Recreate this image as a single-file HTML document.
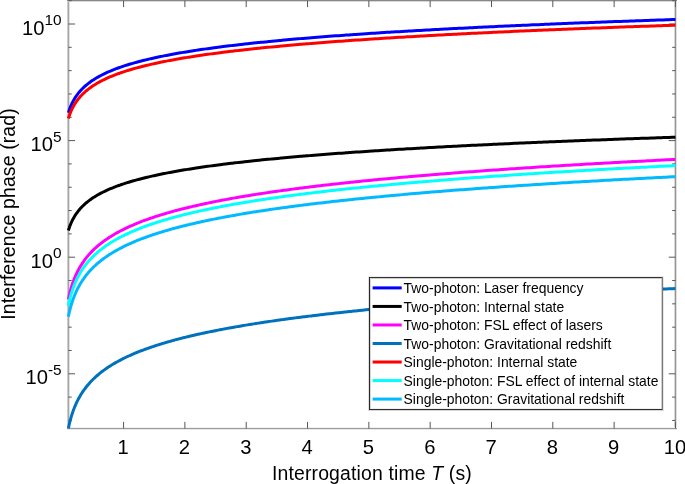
<!DOCTYPE html>
<html><head><meta charset="utf-8"><style>html,body{margin:0;padding:0;background:#fff;width:685px;height:484px;overflow:hidden}</style></head>
<body><svg width="685" height="484" viewBox="0 0 685 484" style="display:block"><rect width="685" height="484" fill="#fff"/><rect x="67" y="0" width="1" height="429" fill="#cdcdcd"/><rect x="68" y="0" width="1" height="429" fill="#a6a6a6"/><rect x="69" y="0" width="1" height="428" fill="#e1e1e1"/><rect x="674" y="0" width="1" height="429" fill="#d8d8d8"/><rect x="675" y="0" width="1" height="429" fill="#949494"/><rect x="676" y="0" width="1" height="429" fill="#e0e0e0"/><rect x="67" y="0" width="610" height="1" fill="#888888"/><rect x="67" y="1" width="610" height="1" fill="#d8d8d8"/><rect x="67" y="427" width="610" height="1" fill="#f0f0f0"/><rect x="67" y="428" width="610" height="1" fill="#9c9c9c"/><rect x="67" y="429" width="610" height="1" fill="#e8e8e8"/><path d="M123.57,428.56V421.86 M123.57,0.6V7.1 M184.89,428.56V421.86 M184.89,0.6V7.1 M246.21,428.56V421.86 M246.21,0.6V7.1 M307.53,428.56V421.86 M307.53,0.6V7.1 M368.85,428.56V421.86 M368.85,0.6V7.1 M430.17,428.56V421.86 M430.17,0.6V7.1 M491.49,428.56V421.86 M491.49,0.6V7.1 M552.81,428.56V421.86 M552.81,0.6V7.1 M614.13,428.56V421.86 M614.13,0.6V7.1 M675.45,428.56V421.86 M675.45,0.6V7.1 M68.38,420.44H71.67999999999999 M675.45,420.44H672.1500000000001 M68.38,397.12H71.67999999999999 M675.45,397.12H672.1500000000001 M68.38,373.80H75.08 M675.45,373.80H668.75 M68.38,350.48H71.67999999999999 M675.45,350.48H672.1500000000001 M68.38,327.16H71.67999999999999 M675.45,327.16H672.1500000000001 M68.38,303.84H71.67999999999999 M675.45,303.84H672.1500000000001 M68.38,280.52H71.67999999999999 M675.45,280.52H672.1500000000001 M68.38,257.20H75.08 M675.45,257.20H668.75 M68.38,233.88H71.67999999999999 M675.45,233.88H672.1500000000001 M68.38,210.56H71.67999999999999 M675.45,210.56H672.1500000000001 M68.38,187.24H71.67999999999999 M675.45,187.24H672.1500000000001 M68.38,163.92H71.67999999999999 M675.45,163.92H672.1500000000001 M68.38,140.60H75.08 M675.45,140.60H668.75 M68.38,117.28H71.67999999999999 M675.45,117.28H672.1500000000001 M68.38,93.96H71.67999999999999 M675.45,93.96H672.1500000000001 M68.38,70.64H71.67999999999999 M675.45,70.64H672.1500000000001 M68.38,47.32H71.67999999999999 M675.45,47.32H672.1500000000001 M68.38,24.00H75.08 M675.45,24.00H668.75 M68.38,0.68H71.67999999999999 M675.45,0.68H672.1500000000001" stroke="#575757" stroke-width="1" fill="none"/><g fill="none" stroke-width="3.00" stroke-linejoin="round"><path d="M68.38,112.78 L68.74,111.61 L69.13,110.45 L69.54,109.28 L69.97,108.12 L70.33,107.18 L70.71,106.25 L71.11,105.32 L71.53,104.38 L71.97,103.45 L72.42,102.52 L72.90,101.59 L73.41,100.65 L73.93,99.72 L74.45,98.84 L75.06,97.86 L75.66,96.92 L76.30,95.99 L76.96,95.06 L77.65,94.12 L78.38,93.19 L79.14,92.26 L79.93,91.33 L80.77,90.39 L81.64,89.46 L82.55,88.53 L83.51,87.59 L84.26,86.89 L85.03,86.20 L85.83,85.50 L86.66,84.80 L87.52,84.10 L88.41,83.40 L89.33,82.70 L90.28,82.00 L91.26,81.30 L92.28,80.60 L93.34,79.90 L94.43,79.20 L95.56,78.50 L96.73,77.80 L97.94,77.10 L99.20,76.40 L100.50,75.70 L101.39,75.23 L102.30,74.77 L103.23,74.30 L104.19,73.84 L105.16,73.37 L106.16,72.90 L107.18,72.44 L108.23,71.97 L109.30,71.50 L110.40,71.04 L111.52,70.57 L112.67,70.10 L113.84,69.64 L115.04,69.17 L116.27,68.71 L117.53,68.24 L118.82,67.77 L119.98,67.36 L121.49,66.84 L122.87,66.37 L124.28,65.91 L125.72,65.44 L127.20,64.97 L128.71,64.51 L130.26,64.04 L131.85,63.57 L133.47,63.11 L135.13,62.64 L136.82,62.18 L138.19,61.81 L139.45,61.48 L141.23,61.01 L143.08,60.54 L144.26,60.25 L145.92,59.84 L147.30,59.51 L148.87,59.14 L149.87,58.91 L150.88,58.68 L151.91,58.44 L152.95,58.21 L154.00,57.98 L155.06,57.74 L156.13,57.51 L157.22,57.28 L158.32,57.05 L159.43,56.81 L160.56,56.58 L161.70,56.35 L162.85,56.11 L164.01,55.88 L165.19,55.65 L166.38,55.41 L167.59,55.18 L168.81,54.95 L170.04,54.71 L171.29,54.48 L172.56,54.25 L173.83,54.01 L175.12,53.78 L176.43,53.55 L177.65,53.33 L179.09,53.08 L180.44,52.85 L181.81,52.61 L183.20,52.38 L184.60,52.15 L186.01,51.91 L187.45,51.68 L188.90,51.45 L190.36,51.22 L191.85,50.98 L193.35,50.75 L194.87,50.52 L195.86,50.36 L197.96,50.05 L199.53,49.82 L201.12,49.58 L202.72,49.35 L204.35,49.12 L206.00,48.88 L207.66,48.65 L209.34,48.42 L211.04,48.18 L212.77,47.95 L214.08,47.78 L216.28,47.48 L218.06,47.25 L219.87,47.02 L221.69,46.78 L223.18,46.60 L225.40,46.32 L227.29,46.08 L229.20,45.85 L231.14,45.62 L232.29,45.48 L235.07,45.15 L237.07,44.92 L238.36,44.77 L241.15,44.45 L243.22,44.22 L244.43,44.08 L247.43,43.75 L249.58,43.52 L251.75,43.29 L253.54,43.10 L256.16,42.82 L258.40,42.59 L259.61,42.46 L260.68,42.35 L262.64,42.15 L265.30,41.89 L267.65,41.65 L268.71,41.55 L270.03,41.42 L271.75,41.25 L274.78,40.96 L277.33,40.72 L279.82,40.49 L280.85,40.39 L282.34,40.25 L283.89,40.11 L284.89,40.02 L286.93,39.84 L289.96,39.57 L292.71,39.32 L295.38,39.09 L298.08,38.86 L300.81,38.62 L302.10,38.51 L303.57,38.39 L305.14,38.26 L306.37,38.16 L308.17,38.01 L309.19,37.92 L311.21,37.76 L314.24,37.51 L317.28,37.27 L320.31,37.03 L323.35,36.79 L326.38,36.56 L329.42,36.33 L332.46,36.10 L335.49,35.87 L338.53,35.65 L341.56,35.43 L344.60,35.21 L345.78,35.12 L347.63,34.99 L349.06,34.89 L350.67,34.78 L352.39,34.66 L353.70,34.57 L355.74,34.42 L359.14,34.19 L362.58,33.96 L365.84,33.74 L368.88,33.54 L371.92,33.34 L373.14,33.26 L374.95,33.14 L376.74,33.03 L377.99,32.95 L380.38,32.79 L384.06,32.56 L387.09,32.37 L390.13,32.18 L391.56,32.09 L393.16,31.99 L395.37,31.86 L399.23,31.63 L402.27,31.44 L405.30,31.26 L407.08,31.16 L408.34,31.09 L411.07,30.93 L414.41,30.73 L417.45,30.56 L419.19,30.46 L420.48,30.39 L423.33,30.23 L426.55,30.05 L429.59,29.88 L431.74,29.76 L435.66,29.55 L438.69,29.38 L440.35,29.29 L441.73,29.22 L444.72,29.06 L447.80,28.90 L449.15,28.83 L450.83,28.74 L453.63,28.59 L456.90,28.43 L458.16,28.36 L459.94,28.27 L462.75,28.13 L466.01,27.96 L467.39,27.90 L469.05,27.81 L472.08,27.66 L475.12,27.51 L476.82,27.43 L478.15,27.36 L481.19,27.22 L484.22,27.07 L486.48,26.96 L490.29,26.78 L491.39,26.73 L493.33,26.64 L496.36,26.50 L499.40,26.35 L501.39,26.26 L502.44,26.21 L505.47,26.08 L506.47,26.03 L508.51,25.94 L511.54,25.80 L514.58,25.66 L516.82,25.56 L520.65,25.39 L522.08,25.33 L523.68,25.26 L526.72,25.13 L529.75,24.99 L532.79,24.86 L535.82,24.73 L538.24,24.63 L541.89,24.48 L543.76,24.40 L544.93,24.35 L547.97,24.22 L549.33,24.16 L551.00,24.09 L554.04,23.97 L557.07,23.84 L560.11,23.72 L563.14,23.60 L566.18,23.48 L569.21,23.35 L572.25,23.23 L575.28,23.11 L578.19,23.00 L581.35,22.87 L584.17,22.76 L587.42,22.64 L590.21,22.53 L593.50,22.41 L596.32,22.30 L599.57,22.18 L602.51,22.07 L605.64,21.95 L608.67,21.84 L611.71,21.72 L614.74,21.61 L617.78,21.50 L620.81,21.39 L623.85,21.28 L626.88,21.17 L627.97,21.13 L629.92,21.06 L632.96,20.95 L634.52,20.90 L635.99,20.85 L639.03,20.74 L641.15,20.67 L645.10,20.53 L647.85,20.43 L651.17,20.32 L654.20,20.21 L657.24,20.11 L660.27,20.01 L661.49,19.97 L663.31,19.91 L666.34,19.80 L668.43,19.73 L672.41,19.60 L675.45,19.50" stroke="#0000ff"/><path d="M68.38,230.48 L68.74,229.31 L69.13,228.15 L69.54,226.98 L69.97,225.82 L70.33,224.88 L70.71,223.95 L71.11,223.02 L71.53,222.08 L71.97,221.15 L72.42,220.22 L72.90,219.29 L73.41,218.35 L73.93,217.42 L74.45,216.54 L75.06,215.56 L75.66,214.62 L76.30,213.69 L76.96,212.76 L77.65,211.82 L78.38,210.89 L79.14,209.96 L79.93,209.03 L80.77,208.09 L81.64,207.16 L82.55,206.23 L83.51,205.29 L84.26,204.59 L85.03,203.90 L85.83,203.20 L86.66,202.50 L87.52,201.80 L88.41,201.10 L89.33,200.40 L90.28,199.70 L91.26,199.00 L92.28,198.30 L93.34,197.60 L94.43,196.90 L95.56,196.20 L96.73,195.50 L97.94,194.80 L99.20,194.10 L100.50,193.40 L101.39,192.93 L102.30,192.47 L103.23,192.00 L104.19,191.54 L105.16,191.07 L106.16,190.60 L107.18,190.14 L108.23,189.67 L109.30,189.20 L110.40,188.74 L111.52,188.27 L112.67,187.80 L113.84,187.34 L115.04,186.87 L116.27,186.41 L117.53,185.94 L118.82,185.47 L119.98,185.06 L121.49,184.54 L122.87,184.07 L124.28,183.61 L125.72,183.14 L127.20,182.67 L128.71,182.21 L130.26,181.74 L131.85,181.27 L133.47,180.81 L135.13,180.34 L136.82,179.88 L138.19,179.51 L139.45,179.18 L141.23,178.71 L143.08,178.24 L144.26,177.95 L145.92,177.54 L147.30,177.21 L148.87,176.84 L149.87,176.61 L150.88,176.38 L151.91,176.14 L152.95,175.91 L154.00,175.68 L155.06,175.44 L156.13,175.21 L157.22,174.98 L158.32,174.75 L159.43,174.51 L160.56,174.28 L161.70,174.05 L162.85,173.81 L164.01,173.58 L165.19,173.35 L166.38,173.11 L167.59,172.88 L168.81,172.65 L170.04,172.41 L171.29,172.18 L172.56,171.95 L173.83,171.71 L175.12,171.48 L176.43,171.25 L177.65,171.03 L179.09,170.78 L180.44,170.55 L181.81,170.31 L183.20,170.08 L184.60,169.85 L186.01,169.61 L187.45,169.38 L188.90,169.15 L190.36,168.92 L191.85,168.68 L193.35,168.45 L194.87,168.22 L195.86,168.06 L197.96,167.75 L199.53,167.52 L201.12,167.28 L202.72,167.05 L204.35,166.82 L206.00,166.58 L207.66,166.35 L209.34,166.12 L211.04,165.88 L212.77,165.65 L214.08,165.48 L216.28,165.18 L218.06,164.95 L219.87,164.72 L221.69,164.48 L223.18,164.30 L225.40,164.02 L227.29,163.78 L229.20,163.55 L231.14,163.32 L232.29,163.18 L235.07,162.85 L237.07,162.62 L238.36,162.47 L241.15,162.15 L243.22,161.92 L244.43,161.78 L247.43,161.45 L249.58,161.22 L251.75,160.99 L253.54,160.80 L256.16,160.52 L258.40,160.29 L259.61,160.16 L260.68,160.05 L262.64,159.85 L265.30,159.59 L267.65,159.35 L268.71,159.25 L270.03,159.12 L271.75,158.95 L274.78,158.66 L277.33,158.42 L279.82,158.19 L280.85,158.09 L282.34,157.95 L283.89,157.81 L284.89,157.72 L286.93,157.54 L289.96,157.27 L292.71,157.02 L295.38,156.79 L298.08,156.56 L300.81,156.32 L302.10,156.21 L303.57,156.09 L305.14,155.96 L306.37,155.86 L308.17,155.71 L309.19,155.62 L311.21,155.46 L314.24,155.21 L317.28,154.97 L320.31,154.73 L323.35,154.49 L326.38,154.26 L329.42,154.03 L332.46,153.80 L335.49,153.57 L338.53,153.35 L341.56,153.13 L344.60,152.91 L345.78,152.82 L347.63,152.69 L349.06,152.59 L350.67,152.48 L352.39,152.36 L353.70,152.27 L355.74,152.12 L359.14,151.89 L362.58,151.66 L365.84,151.44 L368.88,151.24 L371.92,151.04 L373.14,150.96 L374.95,150.84 L376.74,150.73 L377.99,150.65 L380.38,150.49 L384.06,150.26 L387.09,150.07 L390.13,149.88 L391.56,149.79 L393.16,149.69 L395.37,149.56 L399.23,149.33 L402.27,149.14 L405.30,148.96 L407.08,148.86 L408.34,148.79 L411.07,148.63 L414.41,148.43 L417.45,148.26 L419.19,148.16 L420.48,148.09 L423.33,147.93 L426.55,147.75 L429.59,147.58 L431.74,147.46 L435.66,147.25 L438.69,147.08 L440.35,146.99 L441.73,146.92 L444.72,146.76 L447.80,146.60 L449.15,146.53 L450.83,146.44 L453.63,146.29 L456.90,146.13 L458.16,146.06 L459.94,145.97 L462.75,145.83 L466.01,145.66 L467.39,145.60 L469.05,145.51 L472.08,145.36 L475.12,145.21 L476.82,145.13 L478.15,145.06 L481.19,144.92 L484.22,144.77 L486.48,144.66 L490.29,144.48 L491.39,144.43 L493.33,144.34 L496.36,144.20 L499.40,144.05 L501.39,143.96 L502.44,143.91 L505.47,143.78 L506.47,143.73 L508.51,143.64 L511.54,143.50 L514.58,143.36 L516.82,143.26 L520.65,143.09 L522.08,143.03 L523.68,142.96 L526.72,142.83 L529.75,142.69 L532.79,142.56 L535.82,142.43 L538.24,142.33 L541.89,142.18 L543.76,142.10 L544.93,142.05 L547.97,141.92 L549.33,141.86 L551.00,141.79 L554.04,141.67 L557.07,141.54 L560.11,141.42 L563.14,141.30 L566.18,141.18 L569.21,141.05 L572.25,140.93 L575.28,140.81 L578.19,140.70 L581.35,140.57 L584.17,140.46 L587.42,140.34 L590.21,140.23 L593.50,140.11 L596.32,140.00 L599.57,139.88 L602.51,139.77 L605.64,139.65 L608.67,139.54 L611.71,139.42 L614.74,139.31 L617.78,139.20 L620.81,139.09 L623.85,138.98 L626.88,138.87 L627.97,138.83 L629.92,138.76 L632.96,138.65 L634.52,138.60 L635.99,138.55 L639.03,138.44 L641.15,138.37 L645.10,138.23 L647.85,138.13 L651.17,138.02 L654.20,137.91 L657.24,137.81 L660.27,137.71 L661.49,137.67 L663.31,137.61 L666.34,137.50 L668.43,137.43 L672.41,137.30 L675.45,137.20" stroke="#000000"/><path d="M68.38,299.32 L68.60,298.27 L68.82,297.22 L69.05,296.17 L69.29,295.12 L69.54,294.07 L69.79,293.02 L70.06,291.97 L70.33,290.92 L70.62,289.88 L70.91,288.83 L71.21,287.78 L71.53,286.73 L71.86,285.68 L72.19,284.63 L72.54,283.58 L72.90,282.53 L73.28,281.48 L73.67,280.43 L74.07,279.38 L74.45,278.41 L74.91,277.28 L75.36,276.23 L75.82,275.18 L76.30,274.13 L76.79,273.09 L77.30,272.04 L77.83,270.99 L78.38,269.94 L78.94,268.89 L79.53,267.84 L80.14,266.79 L80.77,265.74 L81.42,264.69 L82.09,263.64 L82.79,262.59 L83.51,261.54 L84.26,260.49 L85.03,259.44 L85.83,258.39 L86.59,257.43 L87.23,256.64 L88.11,255.60 L89.02,254.55 L89.96,253.50 L90.93,252.45 L91.94,251.40 L92.66,250.66 L93.70,249.65 L94.43,248.95 L95.18,248.25 L95.95,247.55 L96.73,246.85 L97.53,246.15 L98.36,245.45 L99.20,244.75 L100.06,244.05 L100.94,243.35 L101.77,242.71 L102.76,241.95 L103.71,241.25 L104.67,240.55 L105.66,239.85 L106.67,239.15 L107.71,238.45 L108.76,237.76 L109.85,237.06 L110.87,236.41 L112.09,235.66 L113.25,234.96 L114.44,234.26 L115.66,233.56 L116.90,232.86 L118.17,232.16 L119.48,231.46 L120.81,230.76 L122.17,230.06 L123.57,229.36 L125.00,228.66 L126.05,228.15 L127.20,227.61 L128.71,226.91 L130.26,226.21 L131.85,225.51 L133.47,224.81 L135.13,224.11 L136.82,223.41 L138.19,222.86 L139.45,222.36 L141.23,221.67 L143.08,220.96 L144.26,220.52 L145.92,219.92 L146.89,219.57 L147.87,219.22 L148.87,218.87 L149.87,218.52 L150.88,218.17 L151.91,217.82 L152.95,217.47 L154.00,217.12 L155.06,216.77 L156.13,216.42 L157.22,216.07 L158.32,215.72 L159.43,215.37 L160.56,215.02 L161.70,214.67 L162.85,214.32 L164.01,213.97 L165.19,213.62 L166.38,213.27 L167.59,212.92 L168.81,212.57 L170.04,212.22 L171.29,211.87 L172.56,211.52 L173.83,211.17 L175.12,210.82 L176.43,210.47 L177.65,210.15 L179.09,209.77 L180.44,209.42 L181.81,209.07 L183.20,208.72 L184.60,208.37 L186.01,208.02 L187.45,207.67 L188.90,207.32 L190.36,206.97 L191.85,206.62 L192.83,206.39 L194.87,205.92 L195.86,205.70 L197.96,205.22 L199.53,204.87 L201.12,204.52 L202.72,204.17 L204.35,203.82 L206.00,203.47 L207.66,203.12 L209.34,202.78 L211.04,202.43 L212.77,202.08 L214.08,201.81 L216.28,201.38 L218.06,201.03 L219.87,200.68 L221.69,200.33 L223.18,200.04 L225.40,199.63 L227.29,199.28 L229.20,198.93 L231.14,198.58 L232.29,198.37 L235.07,197.88 L237.07,197.53 L238.36,197.31 L241.15,196.83 L243.22,196.48 L244.43,196.28 L247.43,195.78 L249.58,195.43 L251.75,195.08 L253.54,194.79 L256.16,194.38 L258.40,194.03 L259.61,193.84 L260.68,193.68 L262.64,193.38 L265.30,192.98 L267.65,192.63 L268.71,192.47 L270.03,192.28 L271.75,192.03 L274.78,191.59 L277.33,191.23 L279.82,190.88 L280.85,190.74 L282.34,190.53 L283.89,190.32 L284.89,190.18 L286.93,189.91 L289.96,189.50 L292.71,189.13 L295.38,188.78 L298.08,188.43 L300.81,188.08 L302.10,187.92 L303.57,187.73 L305.14,187.54 L306.37,187.38 L308.17,187.16 L309.19,187.03 L311.21,186.79 L314.24,186.42 L317.28,186.06 L320.31,185.70 L323.35,185.34 L326.38,184.99 L329.42,184.64 L332.46,184.30 L335.49,183.96 L338.53,183.62 L341.56,183.29 L344.60,182.96 L345.78,182.84 L347.63,182.64 L349.06,182.49 L350.67,182.32 L352.39,182.14 L353.70,182.00 L355.74,181.79 L359.14,181.44 L362.58,181.09 L365.84,180.76 L368.88,180.46 L371.92,180.16 L373.14,180.04 L374.95,179.86 L376.74,179.69 L377.99,179.57 L380.38,179.34 L384.06,178.99 L387.09,178.70 L390.13,178.42 L391.56,178.29 L393.16,178.14 L395.37,177.94 L399.23,177.59 L402.27,177.32 L405.30,177.05 L407.08,176.89 L408.34,176.78 L411.07,176.54 L414.41,176.25 L417.45,175.99 L419.19,175.84 L420.48,175.73 L423.33,175.49 L426.55,175.22 L429.59,174.97 L431.74,174.79 L435.66,174.47 L438.69,174.22 L440.35,174.09 L441.73,173.98 L444.72,173.74 L447.80,173.50 L449.15,173.39 L450.83,173.26 L453.63,173.04 L456.90,172.79 L458.16,172.69 L459.94,172.56 L462.75,172.34 L466.01,172.10 L467.39,171.99 L469.05,171.87 L472.08,171.64 L475.12,171.42 L476.82,171.29 L478.15,171.20 L481.19,170.98 L484.22,170.76 L486.48,170.59 L490.29,170.32 L491.39,170.24 L493.33,170.11 L496.36,169.89 L499.40,169.68 L501.39,169.54 L502.44,169.47 L505.47,169.26 L506.47,169.19 L508.51,169.06 L511.54,168.85 L514.58,168.65 L516.82,168.49 L520.65,168.24 L522.08,168.15 L523.68,168.04 L526.72,167.84 L529.75,167.64 L532.79,167.45 L535.82,167.25 L538.24,167.10 L541.89,166.86 L543.76,166.75 L544.93,166.67 L547.97,166.48 L549.33,166.40 L551.00,166.29 L554.04,166.10 L557.07,165.92 L560.11,165.73 L563.14,165.55 L566.18,165.36 L569.21,165.18 L572.25,165.00 L575.28,164.82 L578.19,164.65 L581.35,164.46 L584.17,164.30 L587.42,164.11 L590.21,163.95 L593.50,163.76 L596.32,163.60 L599.57,163.41 L602.51,163.25 L605.64,163.07 L608.67,162.90 L611.71,162.73 L614.74,162.57 L617.78,162.40 L620.81,162.24 L623.85,162.07 L626.88,161.91 L627.97,161.85 L629.92,161.74 L632.96,161.58 L634.52,161.50 L635.99,161.42 L639.03,161.26 L641.15,161.15 L645.10,160.94 L647.85,160.80 L651.17,160.63 L654.20,160.47 L657.24,160.32 L660.27,160.16 L661.49,160.10 L663.31,160.01 L666.34,159.85 L668.43,159.75 L672.41,159.55 L675.45,159.40" stroke="#ff00ff"/><path d="M68.38,428.42 L68.60,427.37 L68.82,426.32 L69.05,425.27 L69.29,424.22 L69.54,423.17 L69.79,422.12 L70.06,421.07 L70.33,420.02 L70.62,418.98 L70.91,417.93 L71.21,416.88 L71.53,415.83 L71.86,414.78 L72.19,413.73 L72.54,412.68 L72.90,411.63 L73.28,410.58 L73.67,409.53 L74.07,408.48 L74.45,407.51 L74.91,406.38 L75.36,405.33 L75.82,404.28 L76.30,403.23 L76.79,402.19 L77.30,401.14 L77.83,400.09 L78.38,399.04 L78.94,397.99 L79.53,396.94 L80.14,395.89 L80.77,394.84 L81.42,393.79 L82.09,392.74 L82.79,391.69 L83.51,390.64 L84.26,389.59 L85.03,388.54 L85.83,387.49 L86.59,386.53 L87.23,385.74 L88.11,384.69 L89.02,383.65 L89.96,382.60 L90.93,381.55 L91.94,380.50 L92.66,379.76 L93.70,378.75 L94.43,378.05 L95.18,377.35 L95.95,376.65 L96.73,375.95 L97.53,375.25 L98.36,374.55 L99.20,373.85 L100.06,373.15 L100.94,372.45 L101.77,371.81 L102.76,371.05 L103.71,370.35 L104.67,369.65 L105.66,368.95 L106.67,368.25 L107.71,367.55 L108.76,366.86 L109.85,366.16 L110.87,365.51 L112.09,364.76 L113.25,364.06 L114.44,363.36 L115.66,362.66 L116.90,361.96 L118.17,361.26 L119.48,360.56 L120.81,359.86 L122.17,359.16 L123.57,358.46 L125.00,357.76 L126.05,357.25 L127.20,356.71 L128.71,356.01 L130.26,355.31 L131.85,354.61 L133.47,353.91 L135.13,353.21 L136.82,352.51 L138.19,351.96 L139.45,351.46 L141.23,350.77 L143.08,350.06 L144.26,349.62 L145.92,349.02 L146.89,348.67 L147.87,348.32 L148.87,347.97 L149.87,347.62 L150.88,347.27 L151.91,346.92 L152.95,346.57 L154.00,346.22 L155.06,345.87 L156.13,345.52 L157.22,345.17 L158.32,344.82 L159.43,344.47 L160.56,344.12 L161.70,343.77 L162.85,343.42 L164.01,343.07 L165.19,342.72 L166.38,342.37 L167.59,342.02 L168.81,341.67 L170.04,341.32 L171.29,340.97 L172.56,340.62 L173.83,340.27 L175.12,339.92 L176.43,339.57 L177.65,339.25 L179.09,338.87 L180.44,338.52 L181.81,338.17 L183.20,337.82 L184.60,337.47 L186.01,337.12 L187.45,336.77 L188.90,336.42 L190.36,336.07 L191.85,335.72 L192.83,335.49 L194.87,335.02 L195.86,334.80 L197.96,334.32 L199.53,333.97 L201.12,333.62 L202.72,333.27 L204.35,332.92 L206.00,332.57 L207.66,332.23 L209.34,331.88 L211.04,331.53 L212.77,331.18 L214.08,330.91 L216.28,330.48 L218.06,330.13 L219.87,329.78 L221.69,329.43 L223.18,329.14 L225.40,328.73 L227.29,328.38 L229.20,328.03 L231.14,327.68 L232.29,327.47 L235.07,326.98 L237.07,326.63 L238.36,326.41 L241.15,325.93 L243.22,325.58 L244.43,325.38 L247.43,324.88 L249.58,324.53 L251.75,324.18 L253.54,323.89 L256.16,323.48 L258.40,323.13 L259.61,322.94 L260.68,322.78 L262.64,322.48 L265.30,322.08 L267.65,321.73 L268.71,321.57 L270.03,321.38 L271.75,321.13 L274.78,320.69 L277.33,320.33 L279.82,319.98 L280.85,319.84 L282.34,319.63 L283.89,319.42 L284.89,319.28 L286.93,319.01 L289.96,318.60 L292.71,318.23 L295.38,317.88 L298.08,317.53 L300.81,317.18 L302.10,317.02 L303.57,316.83 L305.14,316.64 L306.37,316.48 L308.17,316.26 L309.19,316.13 L311.21,315.89 L314.24,315.52 L317.28,315.16 L320.31,314.80 L323.35,314.44 L326.38,314.09 L329.42,313.74 L332.46,313.40 L335.49,313.06 L338.53,312.72 L341.56,312.39 L344.60,312.06 L345.78,311.94 L347.63,311.74 L349.06,311.59 L350.67,311.42 L352.39,311.24 L353.70,311.10 L355.74,310.89 L359.14,310.54 L362.58,310.19 L365.84,309.86 L368.88,309.56 L371.92,309.26 L373.14,309.14 L374.95,308.96 L376.74,308.79 L377.99,308.67 L380.38,308.44 L384.06,308.09 L387.09,307.80 L390.13,307.52 L391.56,307.39 L393.16,307.24 L395.37,307.04 L399.23,306.69 L402.27,306.42 L405.30,306.15 L407.08,305.99 L408.34,305.88 L411.07,305.64 L414.41,305.35 L417.45,305.09 L419.19,304.94 L420.48,304.83 L423.33,304.59 L426.55,304.32 L429.59,304.07 L431.74,303.89 L435.66,303.57 L438.69,303.32 L440.35,303.19 L441.73,303.08 L444.72,302.84 L447.80,302.60 L449.15,302.49 L450.83,302.36 L453.63,302.14 L456.90,301.89 L458.16,301.79 L459.94,301.66 L462.75,301.44 L466.01,301.20 L467.39,301.09 L469.05,300.97 L472.08,300.74 L475.12,300.52 L476.82,300.39 L478.15,300.30 L481.19,300.08 L484.22,299.86 L486.48,299.69 L490.29,299.42 L491.39,299.34 L493.33,299.21 L496.36,298.99 L499.40,298.78 L501.39,298.64 L502.44,298.57 L505.47,298.36 L506.47,298.29 L508.51,298.16 L511.54,297.95 L514.58,297.75 L516.82,297.59 L520.65,297.34 L522.08,297.25 L523.68,297.14 L526.72,296.94 L529.75,296.74 L532.79,296.55 L535.82,296.35 L538.24,296.20 L541.89,295.96 L543.76,295.85 L544.93,295.77 L547.97,295.58 L549.33,295.50 L551.00,295.39 L554.04,295.20 L557.07,295.02 L560.11,294.83 L563.14,294.65 L566.18,294.46 L569.21,294.28 L572.25,294.10 L575.28,293.92 L578.19,293.75 L581.35,293.56 L584.17,293.40 L587.42,293.21 L590.21,293.05 L593.50,292.86 L596.32,292.70 L599.57,292.51 L602.51,292.35 L605.64,292.17 L608.67,292.00 L611.71,291.83 L614.74,291.67 L617.78,291.50 L620.81,291.34 L623.85,291.17 L626.88,291.01 L627.97,290.95 L629.92,290.84 L632.96,290.68 L634.52,290.60 L635.99,290.52 L639.03,290.36 L641.15,290.25 L645.10,290.04 L647.85,289.90 L651.17,289.73 L654.20,289.57 L657.24,289.42 L660.27,289.26 L661.49,289.20 L663.31,289.11 L666.34,288.95 L668.43,288.85 L672.41,288.65 L675.45,288.50" stroke="#0072bd"/><path d="M68.38,118.48 L68.74,117.31 L69.13,116.15 L69.54,114.98 L69.97,113.82 L70.33,112.88 L70.71,111.95 L71.11,111.02 L71.53,110.08 L71.97,109.15 L72.42,108.22 L72.90,107.29 L73.41,106.35 L73.93,105.42 L74.45,104.54 L75.06,103.56 L75.66,102.62 L76.30,101.69 L76.96,100.76 L77.65,99.82 L78.38,98.89 L79.14,97.96 L79.93,97.03 L80.77,96.09 L81.64,95.16 L82.55,94.23 L83.51,93.29 L84.26,92.59 L85.03,91.90 L85.83,91.20 L86.66,90.50 L87.52,89.80 L88.41,89.10 L89.33,88.40 L90.28,87.70 L91.26,87.00 L92.28,86.30 L93.34,85.60 L94.43,84.90 L95.56,84.20 L96.73,83.50 L97.94,82.80 L99.20,82.10 L100.50,81.40 L101.39,80.93 L102.30,80.47 L103.23,80.00 L104.19,79.54 L105.16,79.07 L106.16,78.60 L107.18,78.14 L108.23,77.67 L109.30,77.20 L110.40,76.74 L111.52,76.27 L112.67,75.80 L113.84,75.34 L115.04,74.87 L116.27,74.41 L117.53,73.94 L118.82,73.47 L119.98,73.06 L121.49,72.54 L122.87,72.07 L124.28,71.61 L125.72,71.14 L127.20,70.67 L128.71,70.21 L130.26,69.74 L131.85,69.27 L133.47,68.81 L135.13,68.34 L136.82,67.88 L138.19,67.51 L139.45,67.18 L141.23,66.71 L143.08,66.24 L144.26,65.95 L145.92,65.54 L147.30,65.21 L148.87,64.84 L149.87,64.61 L150.88,64.38 L151.91,64.14 L152.95,63.91 L154.00,63.68 L155.06,63.44 L156.13,63.21 L157.22,62.98 L158.32,62.75 L159.43,62.51 L160.56,62.28 L161.70,62.05 L162.85,61.81 L164.01,61.58 L165.19,61.35 L166.38,61.11 L167.59,60.88 L168.81,60.65 L170.04,60.41 L171.29,60.18 L172.56,59.95 L173.83,59.71 L175.12,59.48 L176.43,59.25 L177.65,59.03 L179.09,58.78 L180.44,58.55 L181.81,58.31 L183.20,58.08 L184.60,57.85 L186.01,57.61 L187.45,57.38 L188.90,57.15 L190.36,56.92 L191.85,56.68 L193.35,56.45 L194.87,56.22 L195.86,56.06 L197.96,55.75 L199.53,55.52 L201.12,55.28 L202.72,55.05 L204.35,54.82 L206.00,54.58 L207.66,54.35 L209.34,54.12 L211.04,53.88 L212.77,53.65 L214.08,53.48 L216.28,53.18 L218.06,52.95 L219.87,52.72 L221.69,52.48 L223.18,52.30 L225.40,52.02 L227.29,51.78 L229.20,51.55 L231.14,51.32 L232.29,51.18 L235.07,50.85 L237.07,50.62 L238.36,50.47 L241.15,50.15 L243.22,49.92 L244.43,49.78 L247.43,49.45 L249.58,49.22 L251.75,48.99 L253.54,48.80 L256.16,48.52 L258.40,48.29 L259.61,48.16 L260.68,48.05 L262.64,47.85 L265.30,47.59 L267.65,47.35 L268.71,47.25 L270.03,47.12 L271.75,46.95 L274.78,46.66 L277.33,46.42 L279.82,46.19 L280.85,46.09 L282.34,45.95 L283.89,45.81 L284.89,45.72 L286.93,45.54 L289.96,45.27 L292.71,45.02 L295.38,44.79 L298.08,44.56 L300.81,44.32 L302.10,44.21 L303.57,44.09 L305.14,43.96 L306.37,43.86 L308.17,43.71 L309.19,43.62 L311.21,43.46 L314.24,43.21 L317.28,42.97 L320.31,42.73 L323.35,42.49 L326.38,42.26 L329.42,42.03 L332.46,41.80 L335.49,41.57 L338.53,41.35 L341.56,41.13 L344.60,40.91 L345.78,40.82 L347.63,40.69 L349.06,40.59 L350.67,40.48 L352.39,40.36 L353.70,40.27 L355.74,40.12 L359.14,39.89 L362.58,39.66 L365.84,39.44 L368.88,39.24 L371.92,39.04 L373.14,38.96 L374.95,38.84 L376.74,38.73 L377.99,38.65 L380.38,38.49 L384.06,38.26 L387.09,38.07 L390.13,37.88 L391.56,37.79 L393.16,37.69 L395.37,37.56 L399.23,37.33 L402.27,37.14 L405.30,36.96 L407.08,36.86 L408.34,36.79 L411.07,36.63 L414.41,36.43 L417.45,36.26 L419.19,36.16 L420.48,36.09 L423.33,35.93 L426.55,35.75 L429.59,35.58 L431.74,35.46 L435.66,35.25 L438.69,35.08 L440.35,34.99 L441.73,34.92 L444.72,34.76 L447.80,34.60 L449.15,34.53 L450.83,34.44 L453.63,34.29 L456.90,34.13 L458.16,34.06 L459.94,33.97 L462.75,33.83 L466.01,33.66 L467.39,33.60 L469.05,33.51 L472.08,33.36 L475.12,33.21 L476.82,33.13 L478.15,33.06 L481.19,32.92 L484.22,32.77 L486.48,32.66 L490.29,32.48 L491.39,32.43 L493.33,32.34 L496.36,32.20 L499.40,32.05 L501.39,31.96 L502.44,31.91 L505.47,31.78 L506.47,31.73 L508.51,31.64 L511.54,31.50 L514.58,31.36 L516.82,31.26 L520.65,31.09 L522.08,31.03 L523.68,30.96 L526.72,30.83 L529.75,30.69 L532.79,30.56 L535.82,30.43 L538.24,30.33 L541.89,30.18 L543.76,30.10 L544.93,30.05 L547.97,29.92 L549.33,29.86 L551.00,29.79 L554.04,29.67 L557.07,29.54 L560.11,29.42 L563.14,29.30 L566.18,29.18 L569.21,29.05 L572.25,28.93 L575.28,28.81 L578.19,28.70 L581.35,28.57 L584.17,28.46 L587.42,28.34 L590.21,28.23 L593.50,28.11 L596.32,28.00 L599.57,27.88 L602.51,27.77 L605.64,27.65 L608.67,27.54 L611.71,27.42 L614.74,27.31 L617.78,27.20 L620.81,27.09 L623.85,26.98 L626.88,26.87 L627.97,26.83 L629.92,26.76 L632.96,26.65 L634.52,26.60 L635.99,26.55 L639.03,26.44 L641.15,26.37 L645.10,26.23 L647.85,26.13 L651.17,26.02 L654.20,25.91 L657.24,25.81 L660.27,25.71 L661.49,25.67 L663.31,25.61 L666.34,25.50 L668.43,25.43 L672.41,25.30 L675.45,25.20" stroke="#ff0000"/><path d="M68.38,305.52 L68.60,304.47 L68.82,303.42 L69.05,302.37 L69.29,301.32 L69.54,300.27 L69.79,299.22 L70.06,298.17 L70.33,297.12 L70.62,296.08 L70.91,295.03 L71.21,293.98 L71.53,292.93 L71.86,291.88 L72.19,290.83 L72.54,289.78 L72.90,288.73 L73.28,287.68 L73.67,286.63 L74.07,285.58 L74.45,284.61 L74.91,283.48 L75.36,282.43 L75.82,281.38 L76.30,280.33 L76.79,279.28 L77.30,278.24 L77.83,277.19 L78.38,276.14 L78.94,275.09 L79.53,274.04 L80.14,272.99 L80.77,271.94 L81.42,270.89 L82.09,269.84 L82.79,268.79 L83.51,267.74 L84.26,266.69 L85.03,265.64 L85.83,264.59 L86.59,263.63 L87.23,262.84 L88.11,261.80 L89.02,260.75 L89.96,259.70 L90.93,258.65 L91.94,257.60 L92.66,256.86 L93.70,255.85 L94.43,255.15 L95.18,254.45 L95.95,253.75 L96.73,253.05 L97.53,252.35 L98.36,251.65 L99.20,250.95 L100.06,250.25 L100.94,249.55 L101.77,248.91 L102.76,248.15 L103.71,247.45 L104.67,246.75 L105.66,246.05 L106.67,245.35 L107.71,244.65 L108.76,243.96 L109.85,243.26 L110.87,242.61 L112.09,241.86 L113.25,241.16 L114.44,240.46 L115.66,239.76 L116.90,239.06 L118.17,238.36 L119.48,237.66 L120.81,236.96 L122.17,236.26 L123.57,235.56 L125.00,234.86 L126.05,234.35 L127.20,233.81 L128.71,233.11 L130.26,232.41 L131.85,231.71 L133.47,231.01 L135.13,230.31 L136.82,229.61 L138.19,229.06 L139.45,228.56 L141.23,227.87 L143.08,227.16 L144.26,226.72 L145.92,226.12 L146.89,225.77 L147.87,225.42 L148.87,225.07 L149.87,224.72 L150.88,224.37 L151.91,224.02 L152.95,223.67 L154.00,223.32 L155.06,222.97 L156.13,222.62 L157.22,222.27 L158.32,221.92 L159.43,221.57 L160.56,221.22 L161.70,220.87 L162.85,220.52 L164.01,220.17 L165.19,219.82 L166.38,219.47 L167.59,219.12 L168.81,218.77 L170.04,218.42 L171.29,218.07 L172.56,217.72 L173.83,217.37 L175.12,217.02 L176.43,216.67 L177.65,216.35 L179.09,215.97 L180.44,215.62 L181.81,215.27 L183.20,214.92 L184.60,214.57 L186.01,214.22 L187.45,213.87 L188.90,213.52 L190.36,213.17 L191.85,212.82 L192.83,212.59 L194.87,212.12 L195.86,211.90 L197.96,211.42 L199.53,211.07 L201.12,210.72 L202.72,210.37 L204.35,210.02 L206.00,209.67 L207.66,209.32 L209.34,208.98 L211.04,208.63 L212.77,208.28 L214.08,208.01 L216.28,207.58 L218.06,207.23 L219.87,206.88 L221.69,206.53 L223.18,206.24 L225.40,205.83 L227.29,205.48 L229.20,205.13 L231.14,204.78 L232.29,204.57 L235.07,204.08 L237.07,203.73 L238.36,203.51 L241.15,203.03 L243.22,202.68 L244.43,202.48 L247.43,201.98 L249.58,201.63 L251.75,201.28 L253.54,200.99 L256.16,200.58 L258.40,200.23 L259.61,200.04 L260.68,199.88 L262.64,199.58 L265.30,199.18 L267.65,198.83 L268.71,198.67 L270.03,198.48 L271.75,198.23 L274.78,197.79 L277.33,197.43 L279.82,197.08 L280.85,196.94 L282.34,196.73 L283.89,196.52 L284.89,196.38 L286.93,196.11 L289.96,195.70 L292.71,195.33 L295.38,194.98 L298.08,194.63 L300.81,194.28 L302.10,194.12 L303.57,193.93 L305.14,193.74 L306.37,193.58 L308.17,193.36 L309.19,193.23 L311.21,192.99 L314.24,192.62 L317.28,192.26 L320.31,191.90 L323.35,191.54 L326.38,191.19 L329.42,190.84 L332.46,190.50 L335.49,190.16 L338.53,189.82 L341.56,189.49 L344.60,189.16 L345.78,189.04 L347.63,188.84 L349.06,188.69 L350.67,188.52 L352.39,188.34 L353.70,188.20 L355.74,187.99 L359.14,187.64 L362.58,187.29 L365.84,186.96 L368.88,186.66 L371.92,186.36 L373.14,186.24 L374.95,186.06 L376.74,185.89 L377.99,185.77 L380.38,185.54 L384.06,185.19 L387.09,184.90 L390.13,184.62 L391.56,184.49 L393.16,184.34 L395.37,184.14 L399.23,183.79 L402.27,183.52 L405.30,183.25 L407.08,183.09 L408.34,182.98 L411.07,182.74 L414.41,182.45 L417.45,182.19 L419.19,182.04 L420.48,181.93 L423.33,181.69 L426.55,181.42 L429.59,181.17 L431.74,180.99 L435.66,180.67 L438.69,180.42 L440.35,180.29 L441.73,180.18 L444.72,179.94 L447.80,179.70 L449.15,179.59 L450.83,179.46 L453.63,179.24 L456.90,178.99 L458.16,178.89 L459.94,178.76 L462.75,178.54 L466.01,178.30 L467.39,178.19 L469.05,178.07 L472.08,177.84 L475.12,177.62 L476.82,177.49 L478.15,177.40 L481.19,177.18 L484.22,176.96 L486.48,176.79 L490.29,176.52 L491.39,176.44 L493.33,176.31 L496.36,176.09 L499.40,175.88 L501.39,175.74 L502.44,175.67 L505.47,175.46 L506.47,175.39 L508.51,175.26 L511.54,175.05 L514.58,174.85 L516.82,174.69 L520.65,174.44 L522.08,174.34 L523.68,174.24 L526.72,174.04 L529.75,173.84 L532.79,173.65 L535.82,173.45 L538.24,173.30 L541.89,173.06 L543.76,172.95 L544.93,172.87 L547.97,172.68 L549.33,172.60 L551.00,172.49 L554.04,172.30 L557.07,172.12 L560.11,171.93 L563.14,171.75 L566.18,171.56 L569.21,171.38 L572.25,171.20 L575.28,171.02 L578.19,170.85 L581.35,170.66 L584.17,170.50 L587.42,170.31 L590.21,170.15 L593.50,169.96 L596.32,169.80 L599.57,169.61 L602.51,169.45 L605.64,169.27 L608.67,169.10 L611.71,168.93 L614.74,168.77 L617.78,168.60 L620.81,168.44 L623.85,168.27 L626.88,168.11 L627.97,168.05 L629.92,167.94 L632.96,167.78 L634.52,167.70 L635.99,167.62 L639.03,167.46 L641.15,167.35 L645.10,167.14 L647.85,167.00 L651.17,166.83 L654.20,166.67 L657.24,166.52 L660.27,166.36 L661.49,166.30 L663.31,166.21 L666.34,166.05 L668.43,165.95 L672.41,165.75 L675.45,165.60" stroke="#00ffff"/><path d="M68.38,316.62 L68.60,315.57 L68.82,314.52 L69.05,313.47 L69.29,312.42 L69.54,311.37 L69.79,310.32 L70.06,309.27 L70.33,308.22 L70.62,307.18 L70.91,306.13 L71.21,305.08 L71.53,304.03 L71.86,302.98 L72.19,301.93 L72.54,300.88 L72.90,299.83 L73.28,298.78 L73.67,297.73 L74.07,296.68 L74.45,295.71 L74.91,294.58 L75.36,293.53 L75.82,292.48 L76.30,291.43 L76.79,290.38 L77.30,289.34 L77.83,288.29 L78.38,287.24 L78.94,286.19 L79.53,285.14 L80.14,284.09 L80.77,283.04 L81.42,281.99 L82.09,280.94 L82.79,279.89 L83.51,278.84 L84.26,277.79 L85.03,276.74 L85.83,275.69 L86.59,274.73 L87.23,273.94 L88.11,272.89 L89.02,271.85 L89.96,270.80 L90.93,269.75 L91.94,268.70 L92.66,267.96 L93.70,266.95 L94.43,266.25 L95.18,265.55 L95.95,264.85 L96.73,264.15 L97.53,263.45 L98.36,262.75 L99.20,262.05 L100.06,261.35 L100.94,260.65 L101.77,260.01 L102.76,259.25 L103.71,258.55 L104.67,257.85 L105.66,257.15 L106.67,256.45 L107.71,255.75 L108.76,255.06 L109.85,254.36 L110.87,253.71 L112.09,252.96 L113.25,252.26 L114.44,251.56 L115.66,250.86 L116.90,250.16 L118.17,249.46 L119.48,248.76 L120.81,248.06 L122.17,247.36 L123.57,246.66 L125.00,245.96 L126.05,245.45 L127.20,244.91 L128.71,244.21 L130.26,243.51 L131.85,242.81 L133.47,242.11 L135.13,241.41 L136.82,240.71 L138.19,240.16 L139.45,239.66 L141.23,238.97 L143.08,238.26 L144.26,237.82 L145.92,237.22 L146.89,236.87 L147.87,236.52 L148.87,236.17 L149.87,235.82 L150.88,235.47 L151.91,235.12 L152.95,234.77 L154.00,234.42 L155.06,234.07 L156.13,233.72 L157.22,233.37 L158.32,233.02 L159.43,232.67 L160.56,232.32 L161.70,231.97 L162.85,231.62 L164.01,231.27 L165.19,230.92 L166.38,230.57 L167.59,230.22 L168.81,229.87 L170.04,229.52 L171.29,229.17 L172.56,228.82 L173.83,228.47 L175.12,228.12 L176.43,227.77 L177.65,227.45 L179.09,227.07 L180.44,226.72 L181.81,226.37 L183.20,226.02 L184.60,225.67 L186.01,225.32 L187.45,224.97 L188.90,224.62 L190.36,224.27 L191.85,223.92 L192.83,223.69 L194.87,223.22 L195.86,223.00 L197.96,222.52 L199.53,222.17 L201.12,221.82 L202.72,221.47 L204.35,221.12 L206.00,220.77 L207.66,220.42 L209.34,220.08 L211.04,219.73 L212.77,219.38 L214.08,219.11 L216.28,218.68 L218.06,218.33 L219.87,217.98 L221.69,217.63 L223.18,217.34 L225.40,216.93 L227.29,216.58 L229.20,216.23 L231.14,215.88 L232.29,215.67 L235.07,215.18 L237.07,214.83 L238.36,214.61 L241.15,214.13 L243.22,213.78 L244.43,213.58 L247.43,213.08 L249.58,212.73 L251.75,212.38 L253.54,212.09 L256.16,211.68 L258.40,211.33 L259.61,211.14 L260.68,210.98 L262.64,210.68 L265.30,210.28 L267.65,209.93 L268.71,209.77 L270.03,209.58 L271.75,209.33 L274.78,208.89 L277.33,208.53 L279.82,208.18 L280.85,208.04 L282.34,207.83 L283.89,207.62 L284.89,207.48 L286.93,207.21 L289.96,206.80 L292.71,206.43 L295.38,206.08 L298.08,205.73 L300.81,205.38 L302.10,205.22 L303.57,205.03 L305.14,204.84 L306.37,204.68 L308.17,204.46 L309.19,204.33 L311.21,204.09 L314.24,203.72 L317.28,203.36 L320.31,203.00 L323.35,202.64 L326.38,202.29 L329.42,201.94 L332.46,201.60 L335.49,201.26 L338.53,200.92 L341.56,200.59 L344.60,200.26 L345.78,200.14 L347.63,199.94 L349.06,199.79 L350.67,199.62 L352.39,199.44 L353.70,199.30 L355.74,199.09 L359.14,198.74 L362.58,198.39 L365.84,198.06 L368.88,197.76 L371.92,197.46 L373.14,197.34 L374.95,197.16 L376.74,196.99 L377.99,196.87 L380.38,196.64 L384.06,196.29 L387.09,196.00 L390.13,195.72 L391.56,195.59 L393.16,195.44 L395.37,195.24 L399.23,194.89 L402.27,194.62 L405.30,194.35 L407.08,194.19 L408.34,194.08 L411.07,193.84 L414.41,193.55 L417.45,193.29 L419.19,193.14 L420.48,193.03 L423.33,192.79 L426.55,192.52 L429.59,192.27 L431.74,192.09 L435.66,191.77 L438.69,191.52 L440.35,191.39 L441.73,191.28 L444.72,191.04 L447.80,190.80 L449.15,190.69 L450.83,190.56 L453.63,190.34 L456.90,190.09 L458.16,189.99 L459.94,189.86 L462.75,189.64 L466.01,189.40 L467.39,189.29 L469.05,189.17 L472.08,188.94 L475.12,188.72 L476.82,188.59 L478.15,188.50 L481.19,188.28 L484.22,188.06 L486.48,187.89 L490.29,187.62 L491.39,187.54 L493.33,187.41 L496.36,187.19 L499.40,186.98 L501.39,186.84 L502.44,186.77 L505.47,186.56 L506.47,186.49 L508.51,186.36 L511.54,186.15 L514.58,185.95 L516.82,185.79 L520.65,185.54 L522.08,185.44 L523.68,185.34 L526.72,185.14 L529.75,184.94 L532.79,184.75 L535.82,184.55 L538.24,184.40 L541.89,184.16 L543.76,184.05 L544.93,183.97 L547.97,183.78 L549.33,183.70 L551.00,183.59 L554.04,183.40 L557.07,183.22 L560.11,183.03 L563.14,182.85 L566.18,182.66 L569.21,182.48 L572.25,182.30 L575.28,182.12 L578.19,181.95 L581.35,181.76 L584.17,181.60 L587.42,181.41 L590.21,181.25 L593.50,181.06 L596.32,180.90 L599.57,180.71 L602.51,180.55 L605.64,180.37 L608.67,180.20 L611.71,180.03 L614.74,179.87 L617.78,179.70 L620.81,179.54 L623.85,179.37 L626.88,179.21 L627.97,179.15 L629.92,179.04 L632.96,178.88 L634.52,178.80 L635.99,178.72 L639.03,178.56 L641.15,178.45 L645.10,178.24 L647.85,178.10 L651.17,177.93 L654.20,177.77 L657.24,177.62 L660.27,177.46 L661.49,177.40 L663.31,177.31 L666.34,177.15 L668.43,177.05 L672.41,176.85 L675.45,176.70" stroke="#00b9ff"/></g><text x="123.17" y="453.9" text-anchor="middle" font-family='"Liberation Sans", Arial, sans-serif' font-size="20.2" fill="#000">1</text><text x="184.49" y="453.9" text-anchor="middle" font-family='"Liberation Sans", Arial, sans-serif' font-size="20.2" fill="#000">2</text><text x="245.81" y="453.9" text-anchor="middle" font-family='"Liberation Sans", Arial, sans-serif' font-size="20.2" fill="#000">3</text><text x="307.13" y="453.9" text-anchor="middle" font-family='"Liberation Sans", Arial, sans-serif' font-size="20.2" fill="#000">4</text><text x="368.45" y="453.9" text-anchor="middle" font-family='"Liberation Sans", Arial, sans-serif' font-size="20.2" fill="#000">5</text><text x="429.77" y="453.9" text-anchor="middle" font-family='"Liberation Sans", Arial, sans-serif' font-size="20.2" fill="#000">6</text><text x="491.09" y="453.9" text-anchor="middle" font-family='"Liberation Sans", Arial, sans-serif' font-size="20.2" fill="#000">7</text><text x="552.41" y="453.9" text-anchor="middle" font-family='"Liberation Sans", Arial, sans-serif' font-size="20.2" fill="#000">8</text><text x="613.73" y="453.9" text-anchor="middle" font-family='"Liberation Sans", Arial, sans-serif' font-size="20.2" fill="#000">9</text><text x="675.05" y="453.9" text-anchor="middle" font-family='"Liberation Sans", Arial, sans-serif' font-size="20.2" fill="#000">10</text><text x="61.6" y="34.50" text-anchor="end" font-family='"Liberation Sans", Arial, sans-serif' font-size="20.2" fill="#000">10<tspan font-size="15.4" dy="-9.5">10</tspan></text><text x="61.6" y="151.10" text-anchor="end" font-family='"Liberation Sans", Arial, sans-serif' font-size="20.2" fill="#000">10<tspan font-size="15.4" dy="-9.5">5</tspan></text><text x="61.6" y="267.70" text-anchor="end" font-family='"Liberation Sans", Arial, sans-serif' font-size="20.2" fill="#000">10<tspan font-size="15.4" dy="-9.5">0</tspan></text><text x="61.6" y="384.30" text-anchor="end" font-family='"Liberation Sans", Arial, sans-serif' font-size="20.2" fill="#000">10<tspan font-size="15.4" dy="-9.5">-5</tspan></text><text x="271.9" y="480" font-family='"Liberation Sans", Arial, sans-serif' font-size="19.4" textLength="199.9" lengthAdjust="spacing" fill="#000">Interrogation time <tspan font-style="italic">T</tspan> (s)</text><text transform="translate(14.7,319.8) rotate(-90)" font-family='"Liberation Sans", Arial, sans-serif' font-size="19.4" textLength="211.5" lengthAdjust="spacing" fill="#000">Interference phase (rad)</text><rect x="369" y="277" width="294" height="133" fill="#fff"/><rect x="368" y="276" width="296" height="1" fill="#000" fill-opacity="0.075"/><rect x="368" y="410" width="296" height="1" fill="#000" fill-opacity="0.153"/><rect x="368" y="277" width="1" height="133" fill="#000" fill-opacity="0.122"/><rect x="663" y="277" width="1" height="133" fill="#000" fill-opacity="0.090"/><rect x="370" y="278" width="291" height="1" fill="#cccccc"/><rect x="370" y="408" width="291" height="1" fill="#f0f0f0"/><rect x="370" y="278" width="1" height="131" fill="#d8d8d8"/><rect x="661" y="278" width="1" height="131" fill="#d0d0d0"/><rect x="369" y="277" width="294" height="1" fill="#333333"/><rect x="369" y="409" width="294" height="1" fill="#2c2c2c"/><rect x="369" y="277" width="1" height="133" fill="#2a2a2a"/><rect x="662" y="277" width="1" height="133" fill="#787878"/><path d="M372.6,287.90H401.7" stroke="#0000ff" stroke-width="3.0"/><text x="403.6" y="293.20" font-family='"Liberation Sans", Arial, sans-serif' font-size="13.9" fill="#000">Two-photon: Laser frequency</text><path d="M372.6,306.43H401.7" stroke="#000000" stroke-width="3.0"/><text x="403.6" y="311.73" font-family='"Liberation Sans", Arial, sans-serif' font-size="13.9" fill="#000">Two-photon: Internal state</text><path d="M372.6,324.96H401.7" stroke="#ff00ff" stroke-width="3.0"/><text x="403.6" y="330.26" font-family='"Liberation Sans", Arial, sans-serif' font-size="13.9" fill="#000">Two-photon: FSL effect of lasers</text><path d="M372.6,343.49H401.7" stroke="#0072bd" stroke-width="3.0"/><text x="403.6" y="348.79" font-family='"Liberation Sans", Arial, sans-serif' font-size="13.9" fill="#000">Two-photon: Gravitational redshift</text><path d="M372.6,362.02H401.7" stroke="#ff0000" stroke-width="3.0"/><text x="403.6" y="367.32" font-family='"Liberation Sans", Arial, sans-serif' font-size="13.9" fill="#000">Single-photon: Internal state</text><path d="M372.6,380.55H401.7" stroke="#00ffff" stroke-width="3.0"/><text x="403.6" y="385.85" font-family='"Liberation Sans", Arial, sans-serif' font-size="13.9" fill="#000">Single-photon: FSL effect of internal state</text><path d="M372.6,399.08H401.7" stroke="#00b9ff" stroke-width="3.0"/><text x="403.6" y="404.38" font-family='"Liberation Sans", Arial, sans-serif' font-size="13.9" fill="#000">Single-photon: Gravitational redshift</text></svg></body></html>
